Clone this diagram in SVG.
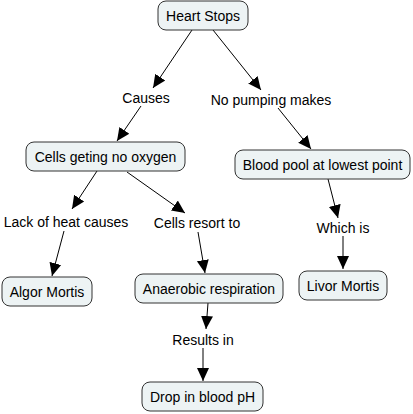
<svg xmlns="http://www.w3.org/2000/svg" width="413" height="414" viewBox="0 0 413 414">
<style>
.node rect{fill:#edf3f4;stroke:#333;stroke-width:1}
text{font-family:"Liberation Sans",Arial,sans-serif;font-size:14px;fill:#000;text-anchor:middle}
.conn line{stroke:#000;stroke-width:1;marker-end:url(#ah)}
</style>
<defs>
<marker id="ah" markerUnits="userSpaceOnUse" markerWidth="14" markerHeight="14" viewBox="0 0 14 14" refX="13" refY="7" orient="auto">
<path d="M0,1 L13,7 L0,13 Z" fill="#000"/>
</marker>
</defs>
<rect width="413" height="414" fill="#fff"/>
<g class="conn" id="connectors">
<line x1="192" y1="30" x2="153" y2="88"/>
<line x1="141" y1="106" x2="117" y2="141"/>
<line x1="213" y1="30" x2="261" y2="90"/>
<line x1="278" y1="108" x2="311" y2="149"/>
<line x1="97" y1="171" x2="72" y2="209"/>
<line x1="64" y1="231" x2="52" y2="276"/>
<line x1="127" y1="172" x2="185" y2="213"/>
<line x1="198" y1="232" x2="205" y2="273"/>
<line x1="208" y1="303" x2="206" y2="329"/>
<line x1="203" y1="348" x2="203" y2="381"/>
<line x1="328" y1="179" x2="338" y2="218"/>
<line x1="343" y1="236" x2="343" y2="269"/>
</g>
<g id="labels">
<text x="146" y="103">Causes</text>
<text x="271" y="105">No pumping makes</text>
<text x="66" y="227">Lack of heat causes</text>
<text x="197" y="228">Cells resort to</text>
<text x="203" y="345">Results in</text>
<text x="343" y="233">Which is</text>
</g>
<g class="node" id="heart-stops"><rect x="158" y="1" width="90" height="29" rx="8"/><text x="203" y="20.5">Heart Stops</text></g>
<g class="node" id="cells-no-oxygen"><rect x="26" y="142" width="159" height="29" rx="8"/><text x="105.5" y="161.5">Cells geting no oxygen</text></g>
<g class="node" id="blood-pool"><rect x="235" y="150" width="175" height="29" rx="8"/><text x="322.5" y="169.5">Blood pool at lowest point</text></g>
<g class="node" id="algor-mortis"><rect x="2" y="277" width="90" height="29" rx="8"/><text x="47" y="296.5">Algor Mortis</text></g>
<g class="node" id="anaerobic"><rect x="135" y="274" width="148" height="29" rx="8"/><text x="209" y="293.5">Anaerobic respiration</text></g>
<g class="node" id="livor-mortis"><rect x="299" y="271" width="88" height="29" rx="8"/><text x="343" y="290.5">Livor Mortis</text></g>
<g class="node" id="drop-ph"><rect x="142" y="382" width="121" height="29" rx="8"/><text x="202.5" y="401.5">Drop in blood pH</text></g>
</svg>
